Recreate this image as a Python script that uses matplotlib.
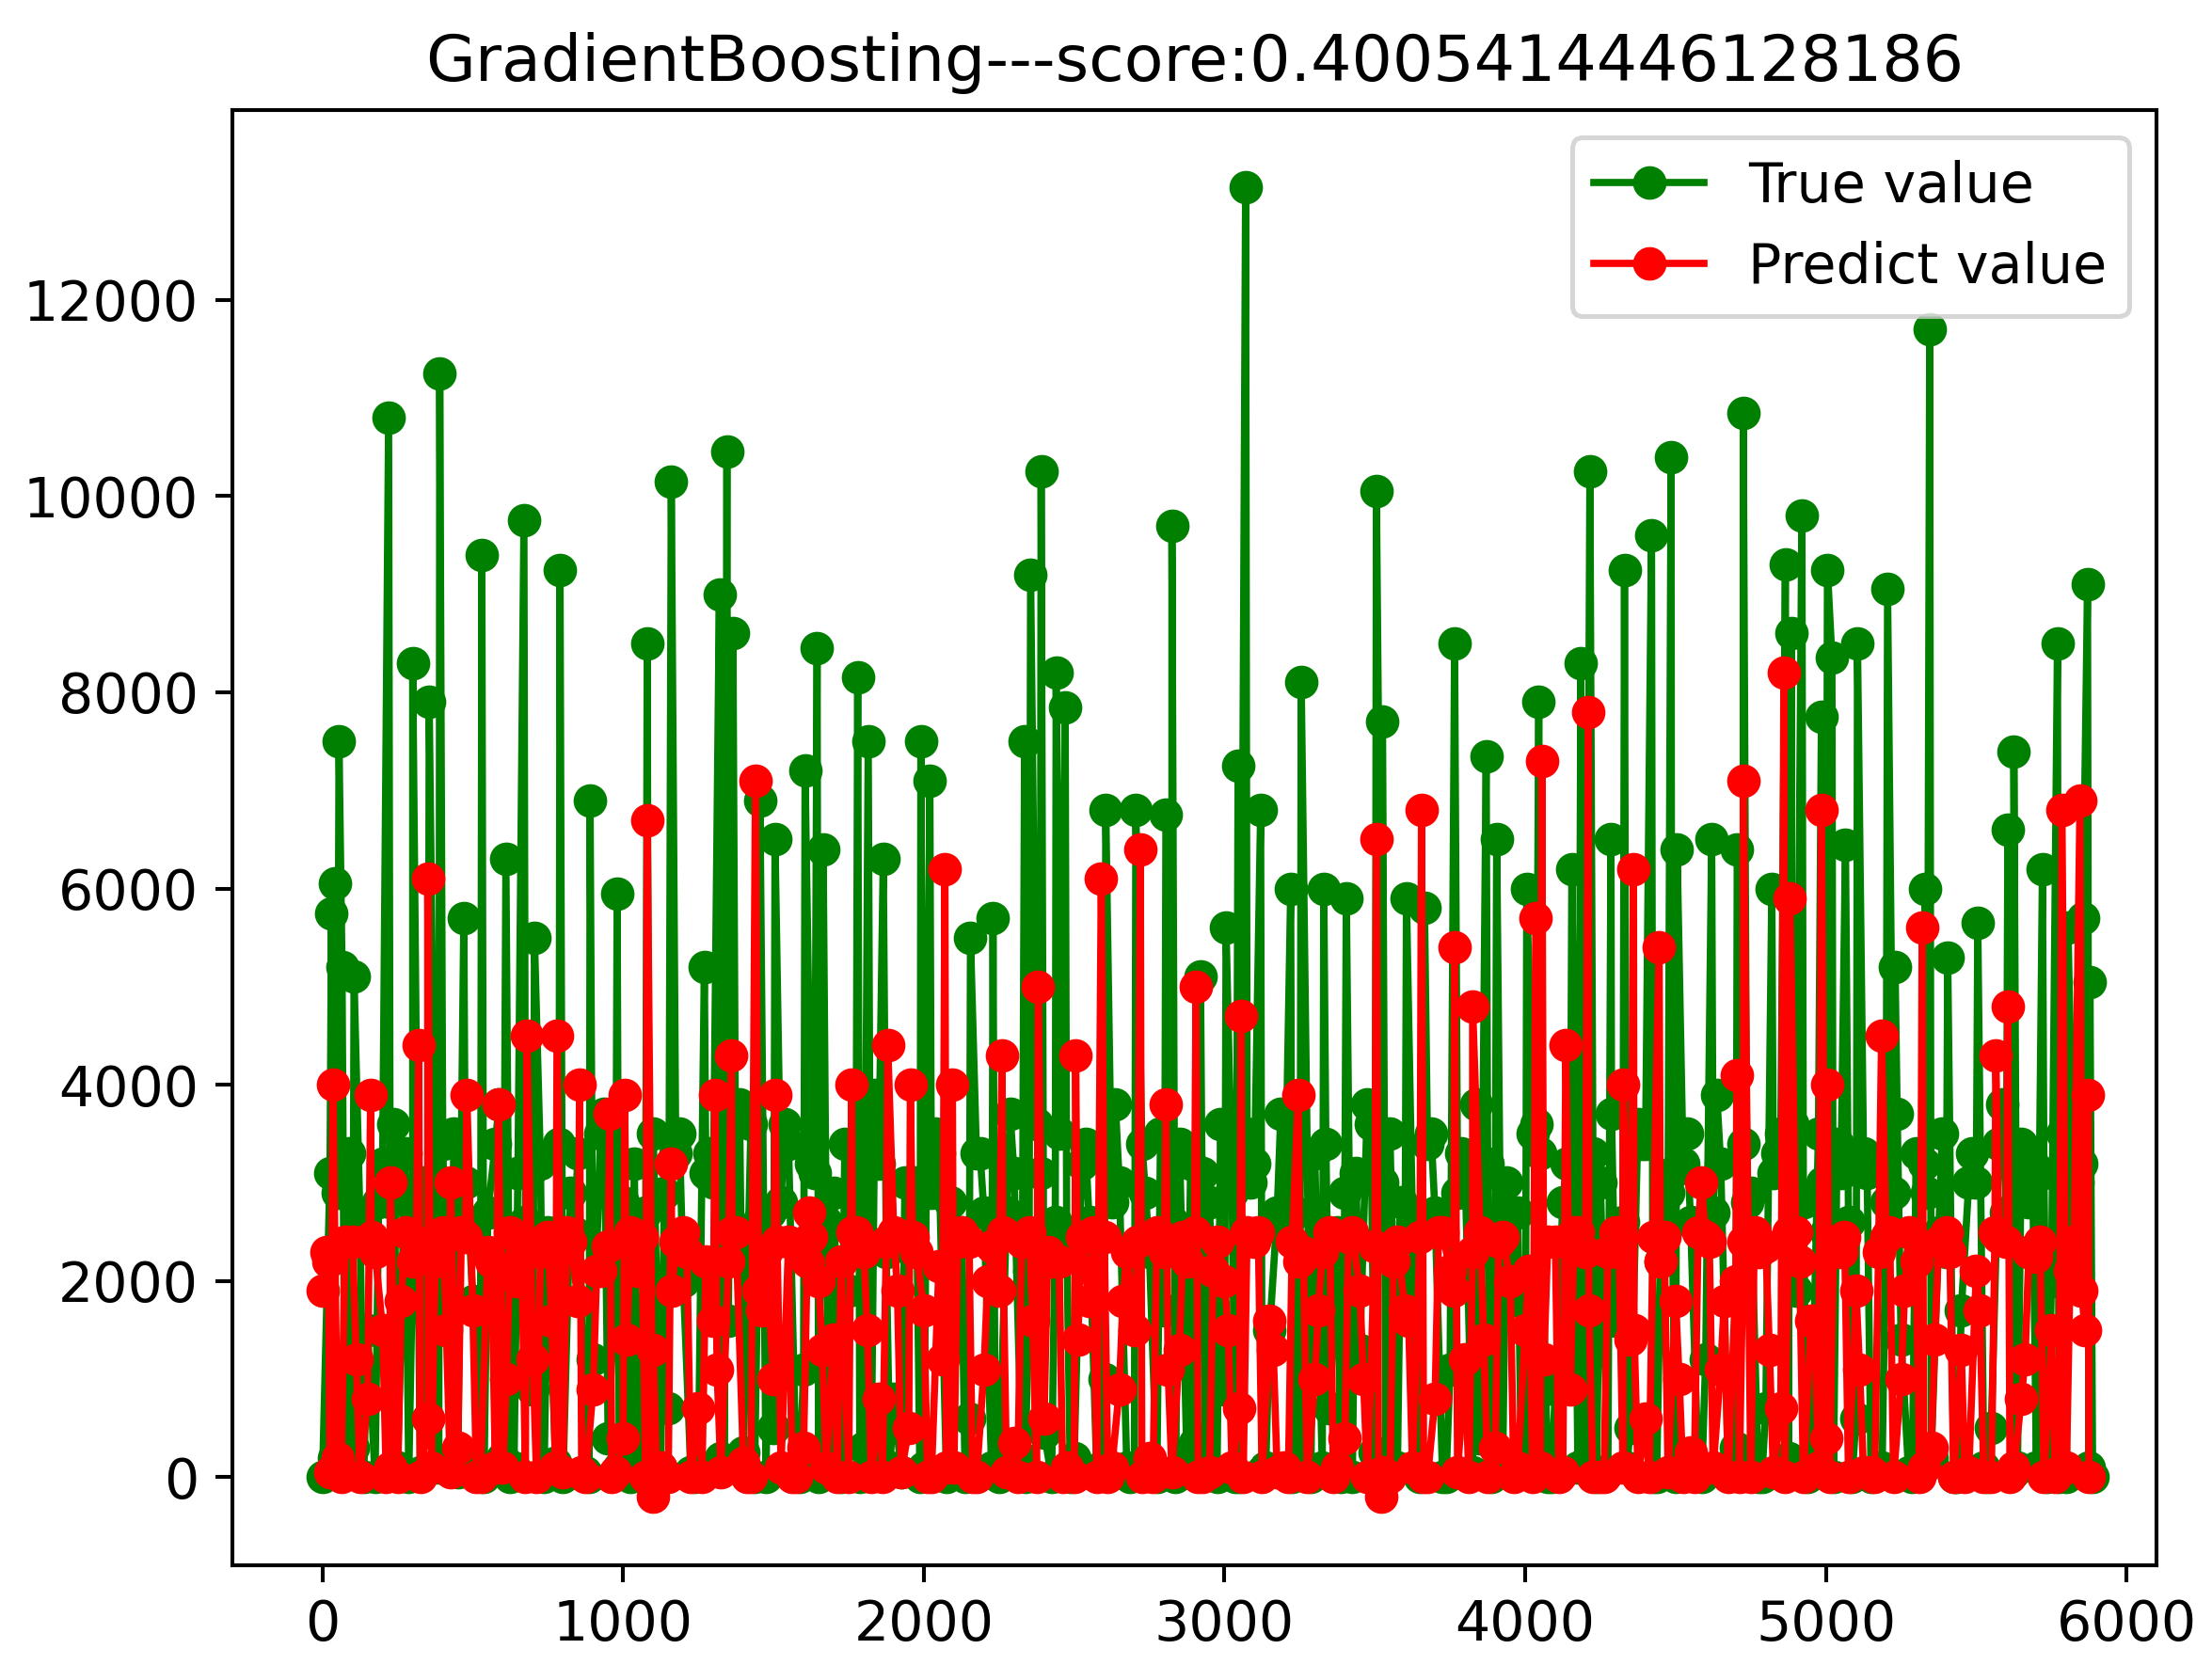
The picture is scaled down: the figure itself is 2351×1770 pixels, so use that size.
import numpy as np
import matplotlib
matplotlib.use("Agg")
import matplotlib.pyplot as plt

# dense low-level values, interleaved samplings (step 50, several offsets)
base_step = 50
true_base_a = [0,2900,300,1500,3200,100,2200,600,3400,50,
1800,2700,200,3100,900,2500,0,3300,1200,400,
2800,150,3500,700,2000,100,3000,1600,250,2600,
500,3400,1100,0,2900,1900,300,3200,800,2400,
100,3300,1400,600,2700,0,3100,2100,450,3500,
200,2600,1000,3000,50,2300,1700,3400,350,2800,
900,0,3200,1500,2500,100,3300,700,2900,1300,
250,3500,2000,0,2700,1100,3100,400,2400,1800,
50,3300,900,2800,150,3000,1600,500,3400,2200,
0,2600,1200,3200,300,2900,700,3500,1900,100,
2500,3100,600,0,2800,1400,3300,200,2300,1700,
3000,500,2700,3400,100,2000,0,3200]
true_base_b = [3100,100,2600,0,2800,3300,50,2500,200,3000,
100,3400,0,2600,3200,150,2900,50,3500,2100,
0,2700,100,3300,50,3100,200,2400,3600,0,
2800,100,3200,2600,0,3400,100,2300,50,3000,
2900,0,2500,3300,100,2700,200,3600,0,2500,
3200,50,2800,100,3400,0,2600,150,3100,0,
2900,3500,50,2700,0,3300,100,2500,0,3800,
3000,100,2600,3400,0,2900,50,3200,100,2700,
3500,0,2800,100,3300,50,2600,3600,0,2900,
3200,100,2700,50,3400,0,3100,200,2800,3500,
0,2600,3300,100,2900,50,3200,2500,0,3000,
100,3400,50,2800,3100,0,2700,100]
pred_base_a = [1900,200,2400,800,1500,0,2200,600,2500,300,
1700,2300,100,2000,1200,2450,50,1800,900,2350,
400,2100,1300,0,2500,700,1600,2200,150,1900,
1000,2400,300,2000,1400,0,2300,800,2500,500,
1700,2150,100,2400,1100,1900,350,2500,600,2200,
0,1800,2450,900,1500,200,2300,1300,2500,50,
2000,700,2400,1600,100,2200,1000,2500,400,1900,
2350,0,1700,2450,800,2100,1200,2500,300,2000,
1500,100,2400,900,2300,0,2500,1400,600,2200,
1800,250,2450,1100,2000,0,2350,700,2500,1600,
400,2300,1900,50,2450,1000,2200,300,2500,1300,
2100,0,2400,800,2250,1500,100,1900]
pred_base_b = [50,2400,0,2300,100,2500,0,2200,50,2450,
0,100,2500,0,2300,100,2400,0,2100,50,
2500,0,100,2400,0,2200,50,2500,0,2300,
100,0,2450,100,2200,2500,0,2400,50,2300,
0,100,2500,0,2350,50,2400,0,2200,100,
2450,0,100,2300,0,2500,50,2200,0,2400,
100,2500,0,50,2400,0,2300,100,2500,0,
50,2400,100,0,2500,50,2300,0,2450,100,
0,2400,50,2500,0,2300,100,0,2450,50,
0,2500,100,0,2400,2300,50,2500,0,100,
2400,0,50,2300,0,2500,100,2400,0,50,
0,2450,100,2300,0,50,2400,0]
pred_base_c = [2300,0,1200,2450,0,1800,2400,100,1500,2500,
0,2200,1000,2400,0,1600,2500,50,2100,0,
1400,2450,0,1900,2300,0,1100,2500,0,1700,
2400,0,2200,1300,0,2500,1500,0,1900,2450,
0,1200,2400,0,2000,2500,0,1600,2300,0,
1400,2500,0,1800,2400,0,1100,2450,0,2100,
1500,0,2500,1300,0,2300,1700,0,2450,1000,
0,2200,1600,0,2500,1900,0,1400,2400,0,
2100,1200,0,2500,1700,0,2300,1500,0,2450,
1000,0,2400,1800,0,2500,1300,0,2200,1600,
0,2450,1100,0,2500,1900,0,1400,2300,0,
1700,2500,0,1200,2400,0,2100,1500]
true_base_c = [200,3300,0,2800,3600,0,3000,100,3500,2600,
0,3800,100,3100,0,3400,2500,0,3700,100,
3200,0,2900,3500,0,3300,100,3800,0,2700,
3600,0,3100,100,3400,0,3900,100,3000,0,
3500,2800,0,3300,100,3700,0,3100,2600,0,
3400,100,3800,0,2900,3500,0,3200,100,3600,
0,3000,100,3700,2700,0,3400,0,3100,3600,
0,2800,100,3500,0,3300,3800,0,3000,100,
3600,0,3200,2900,0,3700,100,3400,0,3100,
3500,0,3900,100,2800,0,3300,3600,0,3000,
3400,0,3100,100,3700,0,2900,3500,0,3300,
0,3800,100,3200,0,3500,3000,0]

true_peak_x = [30,40,55,65,105,220,300,355,390,470,530,610,670,705,790,890,980,1080,1160,1270,1320,1345,1365,1455,1505,1605,1645,1665,1780,1815,1865,1990,2020,2155,2230,2335,2355,2390,2440,2470,2605,2705,2805,2825,2920,3005,3045,3070,3120,3220,3255,3330,3405,3505,3525,3605,3665,3765,3870,3905,4005,4045,4155,4185,4215,4285,4330,4420,4485,4505,4620,4705,4725,4820,4865,4885,4920,4985,5005,5020,5065,5105,5205,5230,5330,5345,5405,5505,5605,5625,5720,5770,5805,5855,5870,5878]
true_peak_y = [5750,6050,7500,5200,5100,10800,8300,7900,11250,5700,9400,6300,9750,5500,9250,6900,5950,8500,10150,5200,9000,10450,8600,6900,6500,7200,8450,6400,8150,7500,6300,7500,7100,5500,5700,7500,9200,10250,8200,7850,6800,6800,6750,9700,5100,5600,7250,13150,6800,6000,8100,6000,5900,10050,7700,5900,5800,8500,7350,6500,6000,7900,6200,8300,10250,6500,9250,9600,10400,6400,6500,6400,10850,6000,9300,8600,9800,7750,9250,8350,6450,8500,9050,5200,6000,11700,5300,5650,6600,7400,6200,8500,5600,5700,9100,5050]

pred_peak_x = [20,35,160,225,320,350,425,480,585,680,780,855,955,1005,1080,1100,1160,1305,1360,1440,1505,1620,1760,1880,1955,2070,2095,2260,2380,2505,2590,2720,2805,2905,3055,3245,3505,3520,3655,3765,3825,4035,4055,4135,4210,4325,4360,4445,4585,4705,4725,4860,4880,4985,5005,5185,5320,5565,5605,5785,5845,5872]
pred_peak_y = [2200,4000,3900,3000,4400,6100,3000,3900,3800,4500,4500,4000,3700,3900,6700,-200,3200,3900,4300,7100,3900,2700,4000,4400,4000,6200,4000,4300,5000,4300,6100,6400,3800,5000,4700,3900,6500,-200,6800,5400,4800,5700,7300,4400,7800,4000,6200,5400,3000,4100,7100,8200,5900,6800,4000,4500,5600,4300,4800,6800,6900,3900]

def merge(bases, px, py):
    pts = list(zip(px, py))
    for offset, base in bases:
        pts += [(i * base_step + offset, v) for i, v in enumerate(base)]
    pts.sort()
    return [p[0] for p in pts], [p[1] for p in pts]

tx, ty = merge([(0, true_base_a), (25, true_base_b), (37, true_base_c)], true_peak_x, true_peak_y)
prx, pry = merge([(0, pred_base_a), (25, pred_base_b), (12, pred_base_c)], pred_peak_x, pred_peak_y)

fig, ax = plt.subplots(figsize=(2351/367, 1770/367), dpi=367)
ax.plot(tx, ty, color='green', marker='o', label='True value')
ax.plot(prx, pry, color='red', marker='o', label='Predict value')
ax.set_xlim(-300, 6100)
ax.set_ylim(-895, 13935)
ax.set_title('GradientBoosting---score:0.4005414446128186', fontsize=13.4)
ax.tick_params(labelsize=11.5)
ax.legend(loc='upper right', fontsize=11.5)
fig.subplots_adjust(left=0.105, right=0.975, bottom=0.06, top=0.934)
fig.savefig('out.png', dpi=367)
